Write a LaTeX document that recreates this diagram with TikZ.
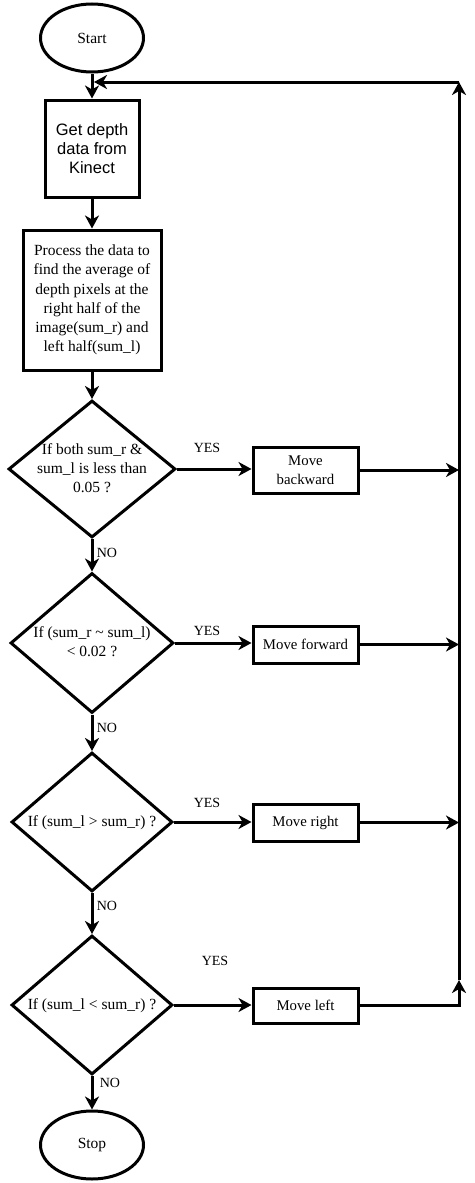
\documentclass[tikz,border=0pt]{standalone}
\usepackage{fontspec}
\setmainfont{Liberation Serif}
\newfontfamily\arialf{Liberation Sans}
\usetikzlibrary{shapes.geometric,arrows.meta}
\newcommand\dtext[1]{\raisebox{-3.8pt}[0pt][0pt]{\makebox[0pt]{\begin{tabular}{@{}c@{}}#1\end{tabular}}}}
\begin{document}
\begin{tikzpicture}[x=1pt,y=-1pt,
  lw/.style={line width=3pt},
  arr/.style={lw,-{Stealth[length=13pt,width=14pt,inset=4pt]}},
  term/.style={ellipse,draw,lw,minimum width=103pt,minimum height=68pt,inner sep=0pt,font=\fontsize{15.5}{19}\selectfont},
  procbox/.style={rectangle,draw,lw,inner sep=0pt,align=center},
  movebox/.style={rectangle,draw,lw,inner sep=0pt,align=center,minimum width=105pt,font=\fontsize{14.8}{19}\selectfont},
  dia/.style={diamond,draw,lw,inner sep=0pt,font=\fontsize{15.5}{19}\selectfont},
  lab/.style={inner sep=0pt,font=\fontsize{14}{15}\selectfont}
]
\useasboundingbox (0,0) rectangle (474,1183);
\node[term] (start) at (92,38) {Start};
\node[procbox,minimum width=94pt,minimum height=97pt,font=\arialf\fontsize{16.5}{19}\selectfont] (get) at (92,148.5) {Get depth\\data from\\Kinect};
\node[procbox,minimum width=138pt,minimum height=140pt,font=\fontsize{15.5}{19.2}\selectfont] (proc) at (92,300) {Process the data to\\find the average of\\depth pixels at the\\right half of the\\image(sum\_r) and\\left half(sum\_l)};
\node[dia,minimum width=167pt,minimum height=137pt] (d1) at (92,469) {\dtext{If both sum\_r \&\\sum\_l is less than\\0.05 ?}};
\node[dia,minimum width=163pt,minimum height=140pt] (d2) at (92,643) {\dtext{If (sum\_r \textasciitilde\ sum\_l)\\< 0.02 ?}};
\node[dia,minimum width=161pt,minimum height=139pt] (d3) at (92,822) {\dtext{If (sum\_l > sum\_r) ?}};
\node[dia,minimum width=161pt,minimum height=139pt] (d4) at (92,1005) {\dtext{If (sum\_l < sum\_r) ?}};
\node[term] (stop) at (92,1145) {Stop};

\node[movebox,minimum height=46pt] (mb) at (305.5,470) {Move\\backward};
\node[movebox,minimum height=37pt] (mf) at (305.5,644.5) {Move forward};
\node[movebox,minimum height=37pt] (mr) at (305.5,822.5) {Move right};
\node[movebox,minimum height=35pt] (ml) at (305.5,1005.5) {Move left};

\node[lab] (y1) at (207,448) {YES};
\node[lab] (y2) at (207,631) {YES};
\node[lab] (y3) at (207,803) {YES};
\node[lab] (y4) at (215,961) {YES};
\node[lab] (n1) at (107,553) {NO};
\node[lab] (n2) at (107,728) {NO};
\node[lab] (n3) at (107,906) {NO};
\node[lab] (n4) at (110,1083) {NO};

\coordinate (c1) at (459,82);
\coordinate (c2) at (459,980);
\coordinate (c0) at (94,82);

\draw[arr] (start) -- (get);
\draw[arr] (get) -- (proc);
\draw[arr] (proc) -- (d1);
\draw[arr] (d1) -- (d2);
\draw[arr] (d2) -- (d3);
\draw[arr] (d3) -- (d4);
\draw[arr] (d4) -- (stop);
\draw[arr] (d1.east) -- (mb.west |- d1.east);
\draw[arr] (d2.east) -- (mf.west |- d2.east);
\draw[arr] (d3.east) -- (mr.west |- d3.east);
\draw[arr] (d4.east) -- (ml.west |- d4.east);
\draw[arr] (mb.east) -- (mb.east -| c1);
\draw[arr] (mf.east) -- (mf.east -| c1);
\draw[arr] (mr.east) -- (mr.east -| c1);
\draw[arr] (ml.east) -| (c2);
\draw[arr] (c2) -- (c1);
\draw[arr] (c1) -- (c0);
\end{tikzpicture}
\end{document}
